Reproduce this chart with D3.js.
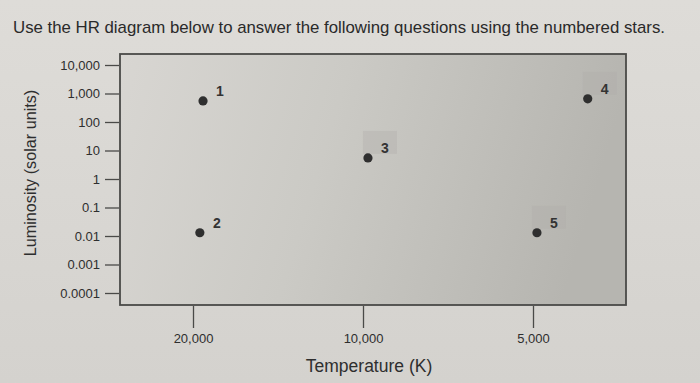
<!DOCTYPE html>
<html>
<head>
<meta charset="utf-8">
<script src="https://cdn.jsdelivr.net/npm/d3@7"></script>
<style>
  body { margin: 0; background: #dcdad6; }
  svg { display: block; font-family: "Liberation Sans", Arial, sans-serif; }
</style>
</head>
<body>
<script>
(function(){
//chart data
var starIds = ["1", "2", "3", "4", "5"];
var starTemps = [19200, 19450, 9800, 4000, 4920];     //temperature (K)
var starLums = [550, 0.013, 5.5, 650, 0.013];        //luminosity (solar units)
var shadedIds = ["3", "4", "5"];                     //labels printed on a shaded patch
var lumTicks = [10000, 1000, 100, 10, 1, 0.1, 0.01, 0.001, 0.0001];
var lumLabels = ["10,000", "1,000", "100", "10", "1", "0.1", "0.01", "0.001", "0.0001"];
var tempTicks = [20000, 10000, 5000];
var tempLabels = ["20,000", "10,000", "5,000"];

var width = 700, height = 383;
var frame = {left: 120, top: 54, right: 626, bottom: 305};

var svg = d3.select("body").append("svg")
    .attr("width", width)
    .attr("height", height);

//paper-like background gradient
var defs = svg.append("defs");
var bg = defs.append("linearGradient").attr("id", "bg")
    .attr("x1", 0).attr("y1", 0).attr("x2", 0).attr("y2", 1);
bg.append("stop").attr("offset", "0%").attr("stop-color", "#dedcd8");
bg.append("stop").attr("offset", "100%").attr("stop-color", "#d4d2ce");
var plotFill = defs.append("linearGradient").attr("id", "plotFill")
    .attr("x1", 0).attr("y1", 0).attr("x2", 1).attr("y2", 0.15);
plotFill.append("stop").attr("offset", "0%").attr("stop-color", "#d8d6d2");
plotFill.append("stop").attr("offset", "45%").attr("stop-color", "#cbcac5");
plotFill.append("stop").attr("offset", "100%").attr("stop-color", "#b6b5b0");

svg.append("rect")
    .attr("width", width)
    .attr("height", height)
    .attr("fill", "url(#bg)");

//title
svg.append("text")
    .attr("x", 13)
    .attr("y", 33)
    .attr("font-size", 17)
    .attr("fill", "#2a2a2a")
    .attr("textLength", 652)
    .attr("lengthAdjust", "spacingAndGlyphs")
    .text("Use the HR diagram below to answer the following questions using the numbered stars.");

//scales (both logarithmic, temperature reversed)
var x = d3.scaleLog()
    .domain([20000, 5000])
    .range([193, 533]);
var y = d3.scaleLog()
    .domain([0.0001, 10000])
    .range([293, 65]);

//plot frame
svg.append("rect")
    .attr("x", frame.left)
    .attr("y", frame.top)
    .attr("width", frame.right - frame.left)
    .attr("height", frame.bottom - frame.top)
    .attr("fill", "url(#plotFill)")
    .attr("stroke", "#4a4a48")
    .attr("stroke-width", 1.8);

//y axis
var yAxis = d3.axisLeft(y)
    .tickValues(lumTicks)
    .tickFormat(function(d, i){ return lumLabels[i]; })
    .tickSize(14)
    .tickPadding(5);
var gy = svg.append("g")
    .attr("transform", "translate(" + (frame.left - 1) + ",0)")
    .call(yAxis);
gy.select(".domain").remove();
gy.selectAll("line").attr("stroke", "#4a4a48").attr("stroke-width", 1.3);
gy.selectAll("text").attr("font-size", 13).attr("fill", "#2e2e2e")
    .attr("font-family", "'Liberation Sans', Arial, sans-serif");

//x axis
var xAxis = d3.axisBottom(x)
    .tickValues(tempTicks)
    .tickFormat(function(d, i){ return tempLabels[i]; })
    .tickSize(22)
    .tickPadding(6);
var gx = svg.append("g")
    .attr("transform", "translate(0," + (frame.bottom + 1) + ")")
    .call(xAxis);
gx.select(".domain").remove();
gx.selectAll("line").attr("stroke", "#4a4a48").attr("stroke-width", 1.3);
gx.selectAll("text").attr("font-size", 13).attr("fill", "#2e2e2e")
    .attr("font-family", "'Liberation Sans', Arial, sans-serif");

//axis titles
svg.append("text")
    .attr("transform", "translate(36,173) rotate(-90)")
    .attr("text-anchor", "middle")
    .attr("font-size", 16.2)
    .attr("fill", "#2e2e2e")
    .text("Luminosity (solar units)");
svg.append("text")
    .attr("x", 369)
    .attr("y", 372)
    .attr("text-anchor", "middle")
    .attr("font-size", 17.5)
    .attr("fill", "#2e2e2e")
    .text("Temperature (K)");

//stars
var stars = starIds.map(function(id, i){
    return {id: id, t: starTemps[i], l: starLums[i]};
});

var star = svg.selectAll(".star")
    .data(stars)
    .enter()
    .append("g")
    .attr("class", "star")
    .attr("transform", function(d){
        return "translate(" + x(d.t) + "," + y(d.l) + ")";
    });

//shaded patch behind some labels
star.filter(function(d){ return shadedIds.indexOf(d.id) >= 0; })
    .append("rect")
    .attr("x", -5)
    .attr("y", -27)
    .attr("width", 34)
    .attr("height", 23)
    .attr("fill", "#aeada8")
    .attr("opacity", 0.35);

star.append("circle")
    .attr("r", 4.6)
    .attr("fill", "#2f2f2f");

star.append("text")
    .attr("x", 17)
    .attr("y", -5)
    .attr("text-anchor", "middle")
    .attr("font-size", 14)
    .attr("font-weight", "bold")
    .attr("fill", "#333")
    .text(function(d){ return d.id; });
})();
</script>
</body>
</html>
